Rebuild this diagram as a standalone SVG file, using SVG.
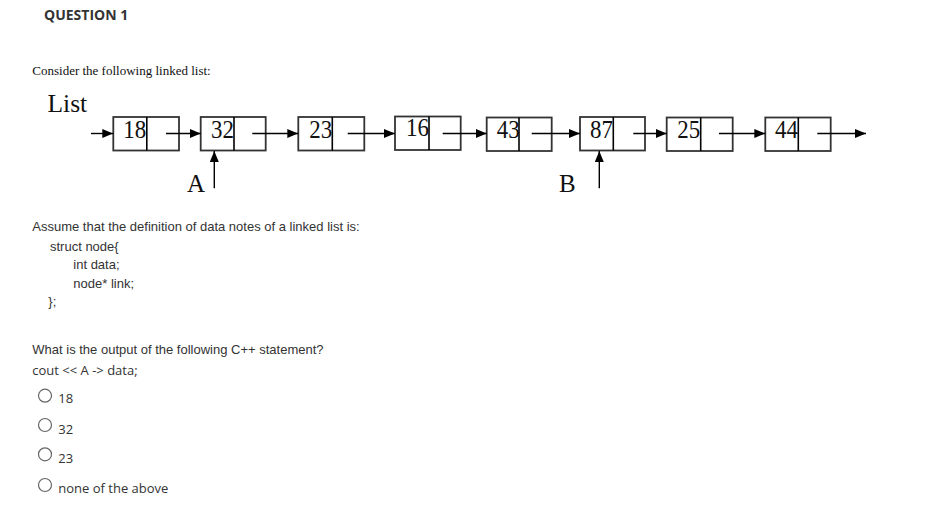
<svg xmlns="http://www.w3.org/2000/svg" width="952" height="518" viewBox="0 0 952 518">
<defs>
<marker id="ah" viewBox="0 0 11 9" refX="11" refY="4.5" markerWidth="11" markerHeight="9" markerUnits="userSpaceOnUse" orient="auto">
<path d="M0,0 L11,4.5 L0,9 Z" fill="#000"/>
</marker>
</defs>
<style>
.bx{fill:#fff;stroke:#333;stroke-width:1.8}
.dv{stroke:#000;stroke-width:1.6}
.num{font-family:"Liberation Serif","Times New Roman",serif;font-size:25.5px;fill:#111}
.ser{font-family:"Liberation Serif","Times New Roman",serif;fill:#111}
.ar{font-family:"Liberation Sans",Arial,sans-serif;font-size:13px;fill:#333}
.os{font-family:"Open Sans","Liberation Sans",sans-serif;font-size:13px;fill:#333}
.cn line{stroke:#000;stroke-width:1.4;marker-end:url(#ah)}
.rb{fill:#fff;stroke:#666;stroke-width:1.2}
</style>
<rect width="952" height="518" fill="#fff"/>
<text x="44" y="19.5" font-family="'Open Sans','Liberation Sans',sans-serif" font-weight="bold" font-size="14" fill="#333">QUESTION 1</text>
<text class="ser" x="32.3" y="75" font-size="13">Consider the following linked list:</text>
<text class="ser" x="47.5" y="111.7" font-size="25.5">List</text>

<g id="node18"><rect class="bx" x="113.3" y="117" width="65.7" height="33.5"/><line class="dv" x1="146.8" y1="117" x2="146.8" y2="150.5"/><text class="num" transform="translate(123.3,137.5) scale(0.9,1)">18</text></g>
<g id="node32"><rect class="bx" x="200.7" y="117" width="65" height="33.5"/><line class="dv" x1="234" y1="117" x2="234" y2="150.5"/><text class="num" transform="translate(211,137.5) scale(0.9,1)">32</text></g>
<g id="node23"><rect class="bx" x="298.3" y="117" width="66" height="33.5"/><line class="dv" x1="332.3" y1="117" x2="332.3" y2="150.5"/><text class="num" transform="translate(309.3,137.5) scale(0.9,1)">23</text></g>
<g id="node16"><rect class="bx" x="395" y="116.5" width="65.7" height="33.5"/><line class="dv" x1="429" y1="116.5" x2="429" y2="150"/><text class="num" transform="translate(406,135.5) scale(0.9,1)">16</text></g>
<g id="node43"><rect class="bx" x="486.7" y="117.5" width="65" height="33.5"/><line class="dv" x1="519" y1="117.5" x2="519" y2="151"/><text class="num" transform="translate(496.7,137.5) scale(0.9,1)">43</text></g>
<g id="node87"><rect class="bx" x="580" y="117" width="65" height="33.5"/><line class="dv" x1="613.3" y1="117" x2="613.3" y2="150.5"/><text class="num" transform="translate(590,138) scale(0.9,1)">87</text></g>
<g id="node25"><rect class="bx" x="666.7" y="117.5" width="66" height="33.5"/><line class="dv" x1="700.7" y1="117.5" x2="700.7" y2="151"/><text class="num" transform="translate(677.3,138) scale(0.9,1)">25</text></g>
<g id="node44"><rect class="bx" x="765.3" y="117.5" width="65.4" height="33.5"/><line class="dv" x1="798.3" y1="117.5" x2="798.3" y2="151"/><text class="num" transform="translate(775,138) scale(0.9,1)">44</text></g>

<g class="cn" id="connectors">
<line x1="91" y1="133.5" x2="113.3" y2="133.5"/>
<line x1="166" y1="133.5" x2="200.7" y2="133.5"/>
<line x1="252.3" y1="133.5" x2="298.3" y2="133.5"/>
<line x1="347.7" y1="133.5" x2="395" y2="133.5"/>
<line x1="442.7" y1="133.5" x2="486.7" y2="133.5"/>
<line x1="531.7" y1="133.5" x2="580" y2="133.5"/>
<line x1="633.3" y1="133.5" x2="666.7" y2="133.5"/>
<line x1="719" y1="133.5" x2="765.3" y2="133.5"/>
<line x1="817.3" y1="133.5" x2="866" y2="133.5"/>
<line x1="214.3" y1="188.3" x2="214.3" y2="151"/>
<line x1="599.3" y1="188.3" x2="599.3" y2="151"/>
</g>

<g id="labelA"><text class="ser" x="187" y="191.7" font-size="25">A</text></g>
<g id="labelB"><text class="ser" x="559" y="191.7" font-size="25">B</text></g>

<text class="ar" x="32.3" y="230.7">Assume that the definition of data notes of a linked list is:</text>
<text class="ar" x="50" y="250.5">struct node{</text>
<text class="ar" x="73.3" y="269.3">int data;</text>
<text class="ar" x="73.3" y="288.3">node* link;</text>
<text class="ar" x="48.3" y="306">};</text>

<text class="ar" x="32.3" y="354">What is the output of the following C++ statement?</text>
<text class="os" x="32.3" y="375">cout &lt;&lt; A -&gt; data;</text>

<circle class="rb" cx="45" cy="395.7" r="6.5"/>
<text class="os" x="58.3" y="403.3">18</text>
<circle class="rb" cx="45" cy="425" r="6.5"/>
<text class="os" x="58.3" y="434">32</text>
<circle class="rb" cx="45" cy="454.3" r="6.5"/>
<text class="os" x="58.3" y="463.3">23</text>
<circle class="rb" cx="45" cy="485" r="6.5"/>
<text class="os" x="58.3" y="493.3">none of the above</text>
</svg>
